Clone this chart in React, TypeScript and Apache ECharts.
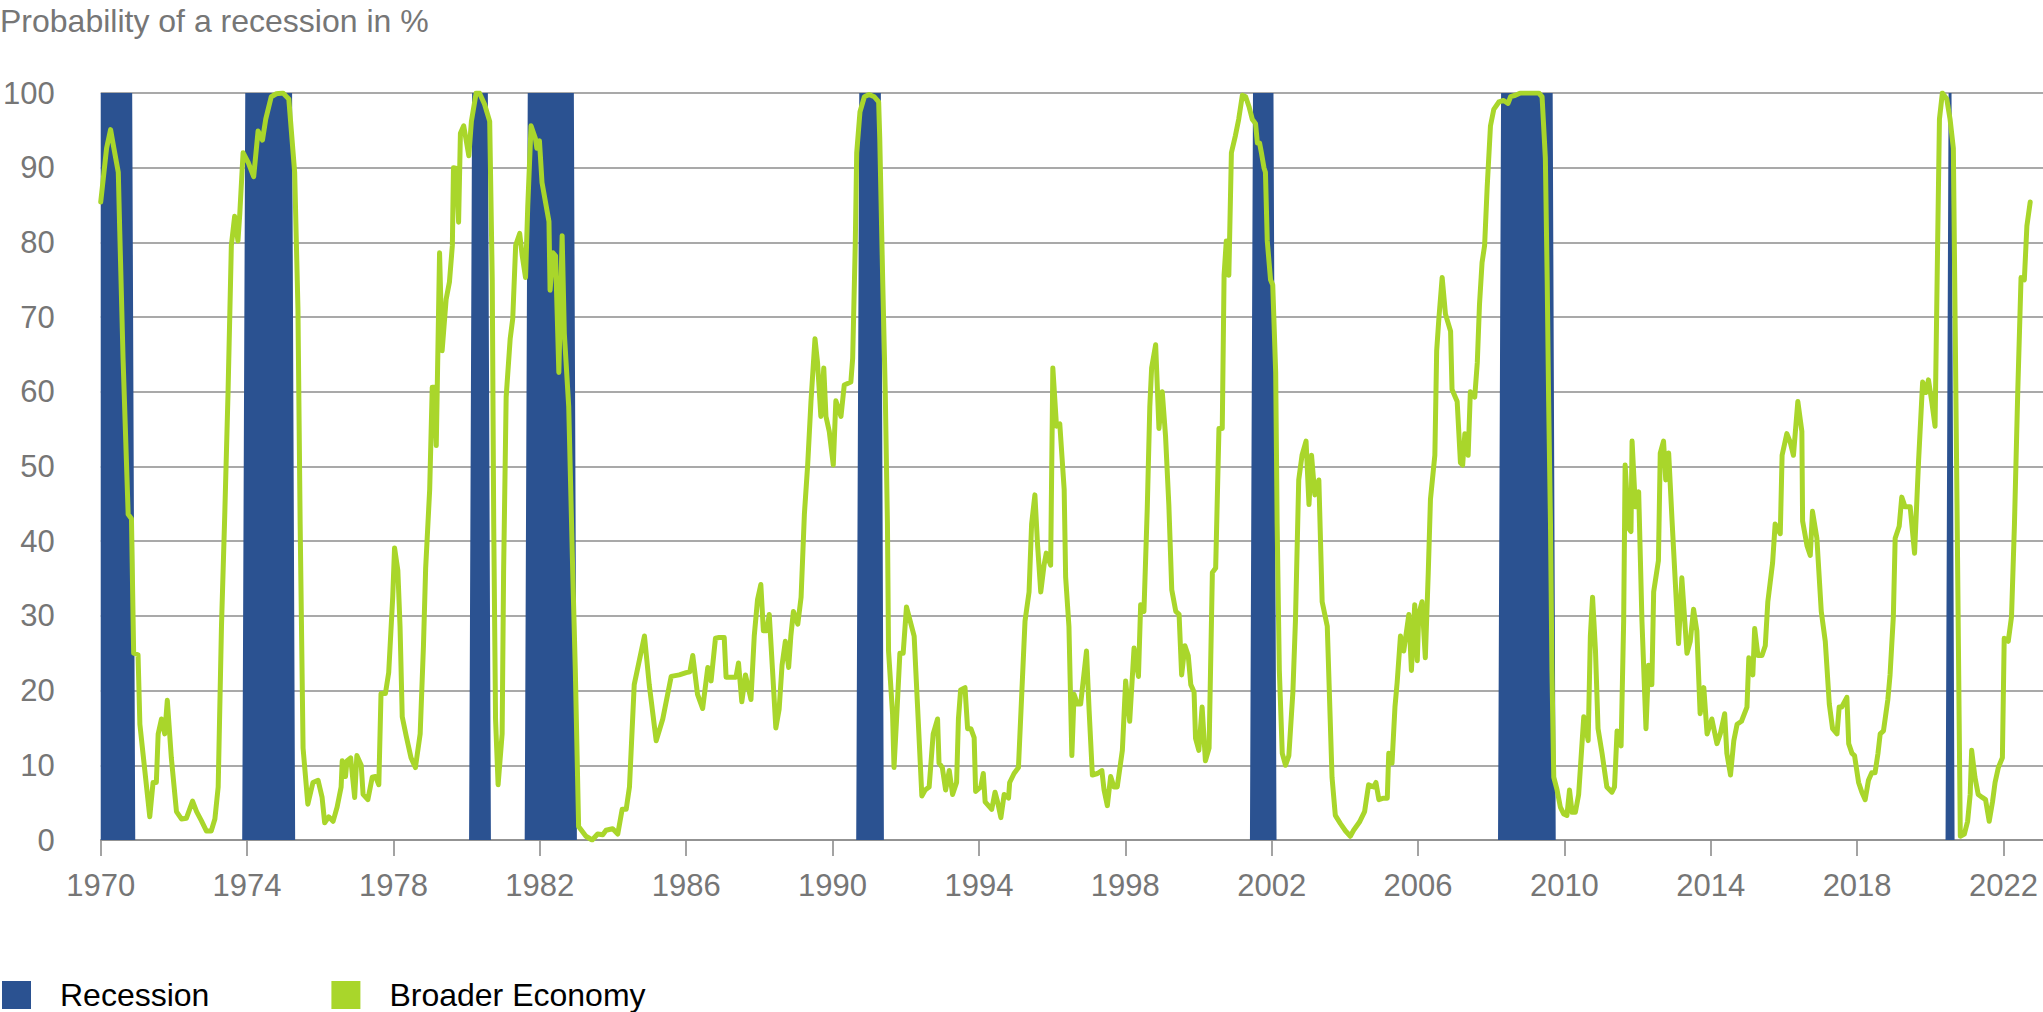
import React, { useEffect, useRef } from "react";
import * as echarts from "echarts";

// ---- Data ----
const titleText = "Probability of a recession in %";
const tickYears = [1970, 1974, 1978, 1982, 1986, 1990, 1994, 1998, 2002, 2006, 2010, 2014, 2018, 2022];

// Recession periods (decimal years, first and last month at 100 %)
const recessionStart = [1970.0, 1973.95, 1980.15, 1981.67, 1990.73, 2001.49, 2008.27, 2020.5];
const recessionEnd = [1970.86, 1975.23, 1980.58, 1982.93, 1991.32, 2002.05, 2009.68, 2020.58];

// Broader Economy – recession probability (decimal year, %)
const probYears = [
  1970.0, 1970.16, 1970.27, 1970.36, 1970.48, 1970.52, 1970.61, 1970.75, 1970.84, 1970.9,
  1971.02, 1971.07, 1971.34, 1971.43, 1971.52, 1971.57, 1971.66, 1971.75, 1971.82, 1971.93,
  1972.07, 1972.21, 1972.34, 1972.51, 1972.62, 1972.75, 1972.89, 1973.02, 1973.12, 1973.21,
  1973.3, 1973.39, 1973.48, 1973.57, 1973.66, 1973.75, 1973.8, 1973.89, 1974.03, 1974.18,
  1974.3, 1974.42, 1974.51, 1974.66, 1974.8, 1974.98, 1975.14, 1975.3, 1975.39, 1975.45,
  1975.53, 1975.66, 1975.8, 1975.94, 1976.05, 1976.12, 1976.23, 1976.35, 1976.46, 1976.57,
  1976.6, 1976.69, 1976.73, 1976.83, 1976.94, 1977.0, 1977.12, 1977.17, 1977.3, 1977.42,
  1977.51, 1977.6, 1977.66, 1977.78, 1977.87, 1977.98, 1978.03, 1978.12, 1978.18, 1978.24,
  1978.35, 1978.48, 1978.6, 1978.73, 1978.82, 1978.88, 1978.99, 1979.06, 1979.12, 1979.17,
  1979.26, 1979.33, 1979.44, 1979.53, 1979.61, 1979.64, 1979.72, 1979.78, 1979.83, 1979.92,
  1980.06, 1980.13, 1980.26, 1980.35, 1980.49, 1980.63, 1980.7, 1980.74, 1980.79, 1980.86,
  1980.97, 1981.01, 1981.08, 1981.19, 1981.26, 1981.34, 1981.45, 1981.52, 1981.61, 1981.67,
  1981.76, 1981.88, 1981.92, 1981.99, 1982.06, 1982.25, 1982.28, 1982.36, 1982.43, 1982.52,
  1982.61, 1982.67, 1982.79, 1982.9, 1982.97, 1983.06, 1983.26, 1983.43, 1983.58, 1983.72,
  1983.81, 1983.99, 1984.13, 1984.25, 1984.36, 1984.45, 1984.58, 1984.86, 1984.99, 1985.18,
  1985.36, 1985.59, 1985.81, 1986.0, 1986.1, 1986.18, 1986.31, 1986.45, 1986.59, 1986.68,
  1986.8, 1986.9, 1987.04, 1987.09, 1987.36, 1987.43, 1987.52, 1987.62, 1987.77, 1987.86,
  1987.95, 1988.04, 1988.11, 1988.2, 1988.27, 1988.36, 1988.45, 1988.54, 1988.62, 1988.71,
  1988.8, 1988.86, 1988.93, 1989.05, 1989.14, 1989.23, 1989.32, 1989.41, 1989.52, 1989.59,
  1989.68, 1989.76, 1989.82, 1989.91, 1990.02, 1990.09, 1990.23, 1990.32, 1990.5, 1990.55,
  1990.62, 1990.66, 1990.75, 1990.87, 1991.0, 1991.14, 1991.26, 1991.29, 1991.37, 1991.44,
  1991.5, 1991.53, 1991.64, 1991.68, 1991.75, 1991.84, 1991.93, 1992.02, 1992.09, 1992.23,
  1992.32, 1992.44, 1992.53, 1992.64, 1992.75, 1992.87, 1992.91, 1993.0, 1993.09, 1993.19,
  1993.28, 1993.39, 1993.44, 1993.5, 1993.62, 1993.69, 1993.78, 1993.87, 1993.91, 1994.05,
  1994.12, 1994.17, 1994.35, 1994.44, 1994.51, 1994.6, 1994.69, 1994.81, 1994.84, 1994.96,
  1995.08, 1995.17, 1995.26, 1995.37, 1995.44, 1995.53, 1995.6, 1995.69, 1995.78, 1995.84,
  1995.96, 1996.02, 1996.12, 1996.21, 1996.33, 1996.37, 1996.46, 1996.54, 1996.6, 1996.69,
  1996.78, 1996.94, 1997.01, 1997.1, 1997.24, 1997.36, 1997.42, 1997.51, 1997.6, 1997.69,
  1997.78, 1997.92, 1998.01, 1998.12, 1998.24, 1998.36, 1998.42, 1998.51, 1998.6, 1998.67,
  1998.72, 1998.83, 1998.92, 1999.01, 1999.1, 1999.19, 1999.27, 1999.38, 1999.47, 1999.54,
  1999.63, 1999.72, 1999.79, 1999.88, 1999.92, 2000.01, 2000.1, 2000.19, 2000.29, 2000.38,
  2000.47, 2000.56, 2000.65, 2000.7, 2000.76, 2000.83, 2000.9, 2001.01, 2001.1, 2001.2,
  2001.29, 2001.38, 2001.47, 2001.56, 2001.61, 2001.67, 2001.72, 2001.79, 2001.83, 2001.88,
  2001.97, 2002.03, 2002.11, 2002.15, 2002.21, 2002.29, 2002.38, 2002.47, 2002.58, 2002.65,
  2002.74, 2002.83, 2002.94, 2003.02, 2003.09, 2003.18, 2003.29, 2003.38, 2003.52, 2003.65,
  2003.74, 2003.88, 2004.02, 2004.15, 2004.24, 2004.4, 2004.54, 2004.65, 2004.79, 2004.85,
  2004.93, 2005.06, 2005.16, 2005.2, 2005.29, 2005.37, 2005.43, 2005.52, 2005.61, 2005.75,
  2005.82, 2005.91, 2005.98, 2006.02, 2006.11, 2006.2, 2006.28, 2006.34, 2006.46, 2006.51,
  2006.57, 2006.66, 2006.75, 2006.89, 2006.93, 2007.07, 2007.16, 2007.22, 2007.28, 2007.37,
  2007.43, 2007.55, 2007.62, 2007.68, 2007.75, 2007.82, 2007.89, 2007.98, 2008.07, 2008.21,
  2008.34, 2008.46, 2008.53, 2008.66, 2008.8, 2009.12, 2009.3, 2009.39, 2009.48, 2009.53,
  2009.57, 2009.62, 2009.66, 2009.71, 2009.8, 2009.89, 2009.98, 2010.07, 2010.14, 2010.21,
  2010.3, 2010.39, 2010.53, 2010.65, 2010.71, 2010.77, 2010.85, 2010.92, 2011.03, 2011.16,
  2011.3, 2011.37, 2011.44, 2011.55, 2011.62, 2011.66, 2011.76, 2011.82, 2011.85, 2011.94,
  2012.03, 2012.12, 2012.23, 2012.3, 2012.39, 2012.44, 2012.57, 2012.62, 2012.71, 2012.77,
  2012.85, 2012.94, 2013.12, 2013.21, 2013.35, 2013.44, 2013.53, 2013.62, 2013.71, 2013.81,
  2013.9, 2014.03, 2014.17, 2014.26, 2014.38, 2014.44, 2014.54, 2014.63, 2014.72, 2014.84,
  2014.99, 2015.04, 2015.15, 2015.2, 2015.29, 2015.4, 2015.49, 2015.56, 2015.69, 2015.76,
  2015.9, 2015.95, 2016.08, 2016.17, 2016.26, 2016.38, 2016.49, 2016.51, 2016.63, 2016.72,
  2016.78, 2016.9, 2017.02, 2017.13, 2017.24, 2017.33, 2017.45, 2017.51, 2017.58, 2017.72,
  2017.77, 2017.86, 2017.93, 2018.04, 2018.13, 2018.22, 2018.31, 2018.4, 2018.49, 2018.57,
  2018.63, 2018.72, 2018.84, 2018.9, 2018.99, 2019.04, 2019.15, 2019.22, 2019.31, 2019.45,
  2019.57, 2019.68, 2019.79, 2019.88, 2019.95, 2020.04, 2020.13, 2020.2, 2020.25, 2020.33,
  2020.45, 2020.54, 2020.63, 2020.73, 2020.82, 2020.93, 2021.02, 2021.09, 2021.13, 2021.22,
  2021.31, 2021.42, 2021.51, 2021.61, 2021.7, 2021.77, 2021.86, 2021.97, 2022.02, 2022.13,
  2022.22, 2022.3, 2022.39, 2022.48, 2022.57, 2022.64, 2022.73,
];

const probValues = [
  85.4, 92.6, 95.1, 92.6, 89.4, 81.5, 64.5, 43.6, 43.0, 25.0,
  24.8, 15.5, 3.1, 7.7, 7.7, 14.2, 16.2, 14.2, 18.7, 11.0,
  3.8, 2.8, 2.9, 5.2, 3.8, 2.6, 1.2, 1.2, 2.8, 7.1,
  28.6, 43.6, 60.0, 79.6, 83.5, 80.2, 83.8, 92.0, 90.7, 88.8,
  94.9, 93.7, 96.5, 99.5, 99.9, 100, 99.2, 89.4, 71.1, 42.3,
  12.3, 4.8, 7.7, 8.0, 5.7, 2.3, 3.1, 2.5, 4.4, 7.1,
  10.6, 8.5, 10.6, 11.0, 5.7, 11.3, 10.0, 6.1, 5.4, 8.4,
  8.5, 7.4, 19.6, 19.6, 22.4, 32.5, 39.1, 36.1, 28.6, 16.5,
  13.9, 11.0, 9.7, 14.2, 26.0, 36.4, 46.9, 60.6, 60.6, 52.8,
  78.6, 65.5, 72.4, 74.7, 79.6, 90.0, 89.9, 82.7, 94.6, 95.6,
  91.6, 96.2, 100, 100, 98.5, 96.2, 75.0, 42.3, 16.2, 7.4,
  14.2, 35.8, 59.3, 67.1, 69.8, 79.6, 81.2, 78.2, 75.3, 84.8,
  95.6, 93.9, 92.6, 93.6, 88.0, 82.8, 73.6, 78.6, 78.2, 62.6,
  80.9, 67.8, 58.0, 35.8, 22.7, 1.8, 0.5, 0, 0.8, 0.7,
  1.3, 1.5, 0.8, 4.1, 4.1, 7.1, 20.8, 27.3, 20.8, 13.3,
  16.2, 21.9, 22.1, 22.4, 22.5, 24.7, 19.5, 17.6, 23.1, 21.3,
  27.0, 27.1, 27.1, 21.8, 21.8, 23.7, 18.5, 22.1, 18.8, 27.3,
  32.2, 34.2, 28.0, 28.0, 30.2, 22.7, 15.0, 17.5, 23.4, 26.6,
  23.1, 27.3, 30.6, 28.9, 32.5, 43.6, 50.2, 58.7, 67.1, 63.9,
  56.7, 63.2, 56.7, 54.7, 50.2, 58.8, 56.7, 60.9, 61.3, 64.5,
  79.6, 92.0, 97.5, 99.5, 99.8, 99.5, 98.8, 93.9, 75.0, 60.0,
  42.3, 25.3, 16.9, 9.7, 16.2, 25.0, 25.0, 31.2, 29.9, 27.3,
  18.2, 5.9, 6.7, 7.1, 14.2, 16.2, 10.3, 9.7, 6.7, 9.3,
  6.1, 7.7, 16.2, 20.1, 20.4, 14.9, 14.9, 13.7, 6.5, 7.1,
  8.9, 5.1, 4.1, 6.4, 5.1, 3.0, 6.1, 5.6, 7.7, 8.9,
  9.7, 19.5, 29.3, 33.2, 42.3, 46.2, 39.7, 33.2, 36.8, 38.4,
  36.8, 63.2, 55.4, 55.7, 46.9, 35.2, 28.6, 11.3, 19.5, 18.2,
  18.2, 25.3, 17.5, 8.7, 8.9, 9.3, 6.7, 4.6, 8.5, 7.1,
  7.1, 12.0, 21.3, 15.9, 25.7, 21.9, 31.5, 30.6, 44.3, 58.0,
  63.2, 66.3, 55.1, 60.0, 54.1, 44.9, 33.5, 30.6, 30.2, 22.1,
  26.0, 24.7, 20.8, 19.8, 13.6, 12.0, 17.8, 10.6, 12.3, 35.8,
  36.4, 55.1, 55.1, 75.6, 80.2, 75.6, 92.0, 94.3, 96.5, 99.7,
  99.5, 98.2, 96.5, 95.9, 93.3, 93.3, 92.0, 90.0, 89.4, 80.2,
  75.0, 74.3, 62.6, 42.3, 22.7, 11.6, 10.0, 11.3, 19.8, 29.3,
  48.2, 51.5, 53.4, 44.9, 51.5, 46.2, 48.2, 31.9, 28.6, 8.4,
  3.3, 2.2, 1.2, 0.5, 1.3, 2.4, 3.8, 7.4, 7.1, 7.7,
  5.4, 5.6, 5.6, 11.6, 10.3, 17.8, 21.1, 27.3, 25.3, 30.2,
  22.7, 31.5, 24.0, 30.2, 31.9, 24.4, 35.8, 45.6, 51.5, 65.5,
  69.8, 75.3, 70.4, 68.1, 60.3, 58.7, 50.5, 50.2, 54.4, 51.5,
  60.0, 59.3, 63.9, 71.7, 77.3, 79.6, 87.4, 95.6, 97.8, 98.8,
  99.0, 98.6, 99.5, 99.7, 100, 100, 100, 99.5, 91.3, 75.0,
  58.7, 42.3, 22.7, 8.4, 6.7, 4.4, 3.5, 3.3, 6.7, 3.7,
  3.7, 6.1, 16.5, 13.3, 27.3, 32.5, 25.3, 14.9, 11.6, 7.1,
  6.4, 7.1, 14.6, 12.6, 29.3, 50.2, 41.7, 41.3, 53.4, 44.6,
  46.6, 29.3, 14.9, 23.4, 20.8, 33.2, 37.4, 51.8, 53.4, 48.2,
  51.8, 43.0, 26.3, 35.1, 25.0, 26.6, 30.9, 28.0, 16.9, 20.4,
  14.2, 16.2, 12.9, 14.2, 16.9, 11.6, 8.7, 13.3, 15.5, 15.9,
  17.8, 24.4, 22.1, 28.3, 24.7, 24.7, 26.0, 31.9, 37.1, 42.3,
  41.0, 51.5, 54.4, 53.3, 51.5, 58.7, 54.7, 42.7, 39.4, 38.1,
  44.0, 40.4, 30.6, 26.6, 18.2, 14.9, 14.2, 17.8, 17.8, 19.1,
  12.9, 11.6, 11.3, 7.7, 6.4, 5.4, 8.0, 9.0, 9.0, 11.6,
  14.2, 14.6, 18.8, 22.1, 29.9, 40.4, 42.0, 45.9, 44.6, 44.6,
  38.4, 50.8, 61.3, 59.9, 61.6, 58.7, 55.4, 79.6, 96.5, 100,
  99.2, 96.5, 92.6, 45.0, 0.5, 0.8, 2.5, 6.1, 12.0, 8.4,
  6.1, 5.7, 5.4, 2.5, 5.1, 7.7, 9.7, 11.0, 27.0, 26.6,
  29.9, 42.3, 60.0, 75.3, 75.0, 82.2, 85.4,
];

const BLUE = "#2B5291";
const GREEN = "#A9D62B";
const GRID = "#8C8C8C";
const LABEL = "#767676";

function buildRecession(): number[][] {
  const step = 1 / 12;
  const out: number[][] = [];
  for (let i = 0; i < recessionStart.length; i++) {
    const s = recessionStart[i];
    const e = recessionEnd[i];
    if (s > 1970) out.push([s - step, 0]);
    out.push([s, 100]);
    out.push([e, 100]);
    out.push([e + step, 0]);
  }
  return out;
}

export default function App() {
  const ref = useRef<HTMLDivElement>(null);
  useEffect(() => {
    if (!ref.current) return;
    const chart = echarts.init(ref.current, undefined, { renderer: "svg" });
    const probData = probYears.map((y, i) => [y, probValues[i]]);
    chart.setOption({
      animation: false,
      backgroundColor: "#ffffff",
      title: {
        text: titleText,
        left: 0,
        top: 5,
        padding: 0,
        textStyle: {
          fontSize: 32,
          fontWeight: "normal",
          color: LABEL,
          fontFamily: "Liberation Sans",
        },
      },
      legend: {
        left: 2,
        top: 979,
        padding: 0,
        icon: "rect",
        itemWidth: 29,
        itemHeight: 28,
        itemGap: 122,
        selectedMode: false,
        textStyle: {
          fontSize: 32,
          color: "#000",
          fontFamily: "Liberation Sans",
          padding: [0, 0, 0, 24],
        },
        data: [
          { name: "Recession", itemStyle: { color: BLUE } },
          { name: "Broader Economy", itemStyle: { color: GREEN } },
        ],
      },
      grid: { left: 99, right: 0, top: 93, bottom: 172, containLabel: false },
      xAxis: {
        type: "value",
        min: 1970,
        max: 2023.08,
        axisLine: { show: true, onZero: false, lineStyle: { color: GRID, width: 1.6 } },
        axisTick: { show: true, length: 16, customValues: tickYears, lineStyle: { color: GRID, width: 1.6 } },
        axisLabel: {
          customValues: tickYears,
          margin: 30,
          fontSize: 31,
          color: LABEL,
          fontFamily: "Liberation Sans",
          formatter: (v: number) => String(Math.round(v)),
        },
        splitLine: { show: false },
      },
      yAxis: {
        type: "value",
        min: 0,
        max: 100,
        interval: 10,
        axisLine: { show: false },
        axisTick: { show: false },
        axisLabel: { margin: 46, fontSize: 31, color: LABEL, fontFamily: "Liberation Sans" },
        splitLine: { show: true, lineStyle: { color: GRID, width: 1.6 } },
      },
      series: [
        {
          name: "Recession",
          type: "line",
          data: buildRecession(),
          symbol: "none",
          silent: true,
          z: 1,
          itemStyle: { color: BLUE },
          lineStyle: { width: 0, color: BLUE },
          areaStyle: { color: BLUE, opacity: 1 },
        },
        {
          name: "Broader Economy",
          type: "line",
          data: probData,
          symbol: "none",
          silent: true,
          z: 2,
          itemStyle: { color: GREEN },
          lineStyle: { width: 5, color: GREEN, join: "round", cap: "round" },
        },
      ],
    });
    return () => chart.dispose();
  }, []);
  return (
    <div
      ref={ref}
      style={{ position: "fixed", left: 0, top: 0, width: "2043px", height: "1012px", background: "#fff" }}
    />
  );
}
